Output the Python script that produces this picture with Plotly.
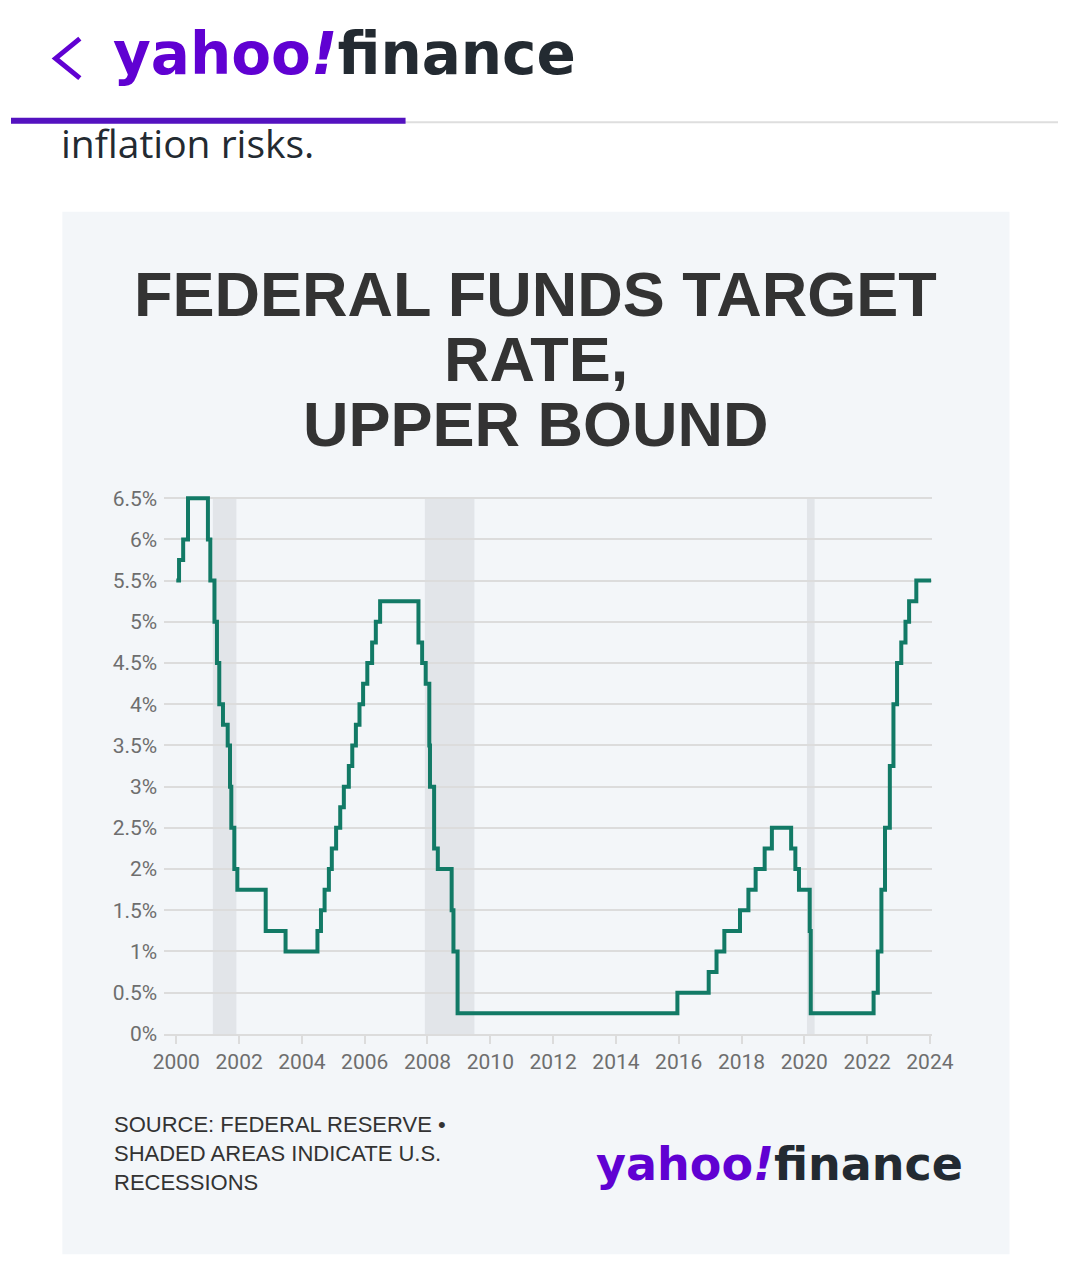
import plotly.graph_objects as go
import pandas as pd

# ---------------- data ----------------
change_dates = [
    "2000-01-01", "2000-02-02", "2000-03-21", "2000-05-16",
    "2001-01-03", "2001-01-31", "2001-03-20", "2001-04-18", "2001-05-15",
    "2001-06-27", "2001-08-21", "2001-09-17", "2001-10-02", "2001-11-06",
    "2001-12-11", "2002-11-06", "2003-06-25",
    "2004-06-30", "2004-08-10", "2004-09-21", "2004-11-10", "2004-12-14",
    "2005-02-02", "2005-03-22", "2005-05-03", "2005-06-30", "2005-08-09",
    "2005-09-20", "2005-11-01", "2005-12-13", "2006-01-31", "2006-03-28",
    "2006-05-10", "2006-06-29",
    "2007-09-18", "2007-10-31", "2007-12-11", "2008-01-22", "2008-01-30",
    "2008-03-18", "2008-04-30", "2008-10-08", "2008-10-29", "2008-12-16",
    "2015-12-17", "2016-12-15", "2017-03-16", "2017-06-15", "2017-12-14",
    "2018-03-22", "2018-06-14", "2018-09-27", "2018-12-20",
    "2019-08-01", "2019-09-19", "2019-10-31", "2020-03-04", "2020-03-16",
    "2022-03-17", "2022-05-05", "2022-06-16", "2022-07-28", "2022-09-22",
    "2022-11-03", "2022-12-15", "2023-02-02", "2023-03-23", "2023-05-04",
    "2023-07-27", "2024-01-15",
]
target_upper = [
    5.5, 5.75, 6.0, 6.5,
    6.0, 5.5, 5.0, 4.5, 4.0,
    3.75, 3.5, 3.0, 2.5, 2.0,
    1.75, 1.25, 1.0,
    1.25, 1.5, 1.75, 2.0, 2.25,
    2.5, 2.75, 3.0, 3.25, 3.5,
    3.75, 4.0, 4.25, 4.5, 4.75,
    5.0, 5.25,
    4.75, 4.5, 4.25, 3.5, 3.0,
    2.25, 2.0, 1.5, 1.0, 0.25,
    0.5, 0.75, 1.0, 1.25, 1.5,
    1.75, 2.0, 2.25, 2.5,
    2.25, 2.0, 1.75, 1.25, 0.25,
    0.5, 1.0, 1.75, 2.5, 3.25,
    4.0, 4.5, 4.75, 5.0, 5.25,
    5.5, 5.5,
]
recession_starts = ["2001-03-01", "2007-12-01", "2020-02-01"]
recession_ends = ["2001-11-30", "2009-06-30", "2020-04-30"]

y_tick_values = [0, 0.5, 1, 1.5, 2, 2.5, 3, 3.5, 4, 4.5, 5, 5.5, 6, 6.5]
y_tick_labels = ["0%", "0.5%", "1%", "1.5%", "2%", "2.5%", "3%", "3.5%",
                 "4%", "4.5%", "5%", "5.5%", "6%", "6.5%"]
x_tick_labels = ["2000", "2002", "2004", "2006", "2008", "2010", "2012",
                 "2014", "2016", "2018", "2020", "2022", "2024"]

title_lines = ["FEDERAL FUNDS TARGET", "RATE,", "UPPER BOUND"]
source_lines = ["SOURCE: FEDERAL RESERVE •", "SHADED AREAS INDICATE U.S.",
                "RECESSIONS"]

# ---------------- layout helpers ----------------
W, H = 1080, 1283


def fx(p):
    return p / W


def fy(p):
    return 1 - p / H


PX_PER_YEAR = 32.39
X2000 = 170.5
GRID_L, GRID_R = 158, 950
base = pd.Timestamp("2000-01-01")
x_start = base + pd.Timedelta(days=(GRID_L - X2000) / PX_PER_YEAR * 365.25)
x_end = base + pd.Timedelta(days=(GRID_R - X2000) / PX_PER_YEAR * 365.25)

PX_PER_PCT = 83.33
Y0 = 1043.3
Y_MAX = 6.62
y_top_px = Y0 - Y_MAX * PX_PER_PCT

LINE_COLOR = "#127a66"
PANEL = "#f3f6f9"
GRID = "#dcdcdc"
TICK_COLOR = "#6e6e6e"
PURPLE = "#6001d2"
DARK = "#232a31"
LOGO_FONT = "DejaVu Sans, sans-serif"

fig = go.Figure()
fig.add_trace(go.Scatter(
    x=change_dates, y=target_upper, mode="lines",
    line=dict(color=LINE_COLOR, width=4, shape="hv"),
    hoverinfo="skip", showlegend=False,
))

shapes = [
    # panel background
    dict(type="rect", xref="paper", yref="paper", x0=fx(53), x1=fx(1030),
         y0=fy(1266), y1=fy(212), fillcolor=PANEL, line=dict(width=0),
         layer="below"),
    # header divider
    dict(type="rect", xref="paper", yref="paper", x0=0, x1=1,
         y0=fy(122.5), y1=fy(120.5), fillcolor="#dedede",
         line=dict(width=0), layer="below"),
    dict(type="rect", xref="paper", yref="paper", x0=0, x1=fx(407),
         y0=fy(123), y1=fy(117), fillcolor="#5412c0",
         line=dict(width=0), layer="above"),
    # back chevron
    dict(type="path", xref="paper", yref="paper",
         path=f"M {fx(71)} {fy(37)} L {fx(46)} {fy(57)} L {fx(71)} {fy(77)}",
         line=dict(color=PURPLE, width=5), layer="above"),
]
for s, e in zip(recession_starts, recession_ends):
    shapes.append(dict(type="rect", xref="x", yref="y", x0=s, x1=e,
                       y0=0, y1=6.5, fillcolor="#e2e5e9",
                       line=dict(width=0), layer="below"))

logo_text = (f"<span style='color:{PURPLE}'>yahoo<i>!</i></span>finance")

annotations = []
# header logo
annotations.append(dict(
    xref="paper", yref="paper", x=fx(103), y=fy(53), xanchor="left",
    yanchor="middle", showarrow=False, text=logo_text,
    font=dict(family=LOGO_FONT, size=58, color=DARK, weight=700),
))
# article text
annotations.append(dict(
    xref="paper", yref="paper", x=fx(50), y=fy(142), xanchor="left",
    yanchor="middle", showarrow=False, text="inflation risks.",
    font=dict(family="Open Sans, Noto Sans, sans-serif", size=39,
              color=DARK),
))
# chart title
for line, cy in zip(title_lines, [295, 361, 427]):
    annotations.append(dict(
        xref="paper", yref="paper", x=fx(541.5), y=fy(cy), xanchor="center",
        yanchor="middle", showarrow=False, text=line,
        font=dict(family="Liberation Sans, Arial, sans-serif", size=63,
                  color="#333333", weight=700),
    ))
# source note
for line, cy in zip(source_lines, [1135, 1164.5, 1194]):
    annotations.append(dict(
        xref="paper", yref="paper", x=fx(104), y=fy(cy), xanchor="left",
        yanchor="middle", showarrow=False, text=line,
        font=dict(family="Liberation Sans, Arial, sans-serif", size=22,
                  color="#333333"),
    ))
# footer logo
annotations.append(dict(
    xref="paper", yref="paper", x=fx(601), y=fy(1175), xanchor="left",
    yanchor="middle", showarrow=False, text=logo_text,
    font=dict(family=LOGO_FONT, size=46, color=DARK, weight=700),
))

fig.update_layout(
    width=W, height=H, autosize=False,
    margin=dict(l=0, r=0, t=0, b=0, pad=0),
    paper_bgcolor="white", plot_bgcolor="rgba(0,0,0,0)",
    shapes=shapes, annotations=annotations, showlegend=False,
    xaxis=dict(
        type="date", domain=[fx(GRID_L), fx(GRID_R)],
        range=[x_start, x_end],
        tickvals=[f"{y}-01-01" for y in x_tick_labels],
        ticktext=x_tick_labels,
        showgrid=False, zeroline=False,
        showline=True, linecolor=GRID, linewidth=2,
        ticks="outside", ticklen=8, tickwidth=2, tickcolor=GRID,
        tickfont=dict(family="Roboto, sans-serif", size=21, color=TICK_COLOR),
        fixedrange=True,
    ),
    yaxis=dict(
        domain=[fy(Y0), fy(y_top_px)], range=[0, Y_MAX],
        tickvals=y_tick_values, ticktext=y_tick_labels,
        showgrid=True, gridcolor=GRID, gridwidth=2,
        zeroline=False, showline=False, ticks="",
        ticklabelstandoff=6,
        tickfont=dict(family="Roboto, sans-serif", size=21, color=TICK_COLOR),
        fixedrange=True,
    ),
)

fig.write_html("out.html", config={"displayModeBar": False})
